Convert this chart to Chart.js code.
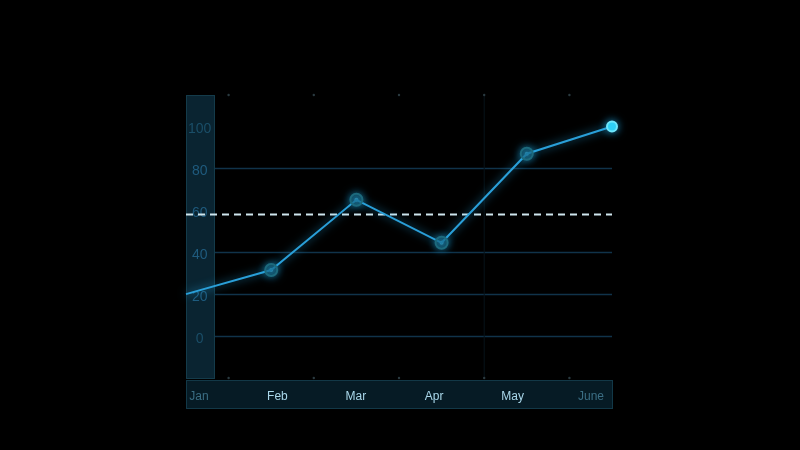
<!DOCTYPE html>
<html>
<head>
<meta charset="utf-8">
<script src="https://cdn.jsdelivr.net/npm/chart.js@4.4.0/dist/chart.umd.min.js"></script>
<style>
  html, body { margin: 0; padding: 0; background: #000; }
  canvas { display: block; }
</style>
</head>
<body>
<canvas id="myChart" width="800" height="450"></canvas>
<script>
// chart data
var months = ['Jan', 'Feb', 'Mar', 'Apr', 'May', 'June'];
var values = [20, 31.5, 65, 44.5, 87, 100];
var yTicks = [0, 20, 40, 60, 80, 100];
var targetValue = 58; // dashed reference line

var last = values.length - 1;

// panels, grid, dots and the dashed line
var hudPlugin = {
    id: 'hud',
    beforeDraw: function (chart) {
        var ctx = chart.ctx;
        var a = chart.chartArea;
        var x = chart.scales.x;
        var y = chart.scales.y;
        ctx.save();
        ctx.fillStyle = '#000';
        ctx.fillRect(0, 0, chart.width, chart.height);

        // y axis panel
        ctx.fillStyle = '#0a2431';
        ctx.fillRect(a.left, a.top, 29, a.bottom - a.top);
        ctx.strokeStyle = '#143b4a';
        ctx.lineWidth = 1;
        ctx.strokeRect(a.left + 0.5, a.top + 0.5, 28, a.bottom - a.top);

        // x axis panel
        ctx.fillStyle = '#061b25';
        ctx.fillRect(a.left, a.bottom + 2, a.right - a.left, 29);
        ctx.strokeStyle = '#123847';
        ctx.strokeRect(a.left + 0.5, a.bottom + 2.5, a.right - a.left, 28);

        // horizontal grid lines (60 sits under the dashed line)
        ctx.strokeStyle = '#10334a';
        ctx.lineWidth = 1.5;
        yTicks.forEach(function (v) {
            if (v >= 100 || v === 60) return;
            var py = Math.round(y.getPixelForValue(v)) + 0.5;
            ctx.beginPath();
            ctx.moveTo(a.left + 29, py);
            ctx.lineTo(a.right, py);
            ctx.stroke();
        });

        // faint vertical line between Apr and May
        var vx = (x.getPixelForValue(3) + x.getPixelForValue(4)) / 2;
        ctx.strokeStyle = '#07131a';
        ctx.lineWidth = 1;
        ctx.beginPath();
        ctx.moveTo(vx, a.top);
        ctx.lineTo(vx, a.bottom);
        ctx.stroke();

        // small dots between months, top and bottom
        ctx.fillStyle = '#2a3a40';
        for (var i = 0; i < last; i++) {
            var mx = (x.getPixelForValue(i) + x.getPixelForValue(i + 1)) / 2;
            ctx.beginPath(); ctx.arc(mx, a.top, 1.2, 0, Math.PI * 2); ctx.fill();
            ctx.beginPath(); ctx.arc(mx, a.bottom, 1.2, 0, Math.PI * 2); ctx.fill();
        }
        ctx.restore();
    },
    beforeDatasetsDraw: function (chart) {
        var ctx = chart.ctx;
        var a = chart.chartArea;
        var py = chart.scales.y.getPixelForValue(targetValue);
        ctx.save();
        ctx.strokeStyle = '#cfe6ee';
        ctx.lineWidth = 1.8;
        ctx.setLineDash([7, 5]);
        ctx.beginPath();
        ctx.moveTo(a.left, py);
        ctx.lineTo(a.right, py);
        ctx.stroke();
        ctx.restore();
    },
    beforeDatasetDraw: function (chart) {
        chart.ctx.save();
        chart.ctx.shadowColor = 'rgba(40, 190, 255, 0.7)';
        chart.ctx.shadowBlur = 8;
    },
    afterDatasetDraw: function (chart) {
        chart.ctx.restore();
    }
};

var ctx = document.getElementById('myChart').getContext('2d');
var myChart = new Chart(ctx, {
    type: 'line',
    data: {
        labels: months,
        datasets: [{
            data: values,
            borderColor: '#2a9fd8',
            borderWidth: 2,
            tension: 0,
            clip: false,
            pointRadius: function (c) { return c.dataIndex === 0 ? 0 : (c.dataIndex === last ? 5 : 6); },
            pointBackgroundColor: function (c) { return c.dataIndex === last ? '#30d4f4' : 'rgba(18, 70, 88, 0.6)'; },
            pointBorderColor: function (c) { return c.dataIndex === last ? '#6fe6fb' : '#1d6a7d'; },
            pointBorderWidth: 2
        }, {
            // bright centre of each marker
            data: values,
            showLine: false,
            clip: false,
            pointRadius: function (c) { return (c.dataIndex === 0 || c.dataIndex === last) ? 0 : 2; },
            pointBackgroundColor: '#5cd2f2',
            pointBorderWidth: 0
        }]
    },
    options: {
        responsive: false,
        animation: false,
        layout: { padding: { left: 186, right: 188, top: 95, bottom: 41 } },
        plugins: { legend: { display: false }, tooltip: { enabled: false } },
        scales: {
            x: { display: false },
            xl: {
                type: 'linear',
                position: 'bottom',
                min: -0.166,
                max: 5.268,
                afterBuildTicks: function (s) { s.ticks = months.map(function (m, i) { return { value: i }; }); },
                afterFit: function (s) { s.height = 31; },
                grid: { display: false, drawTicks: false },
                border: { display: false },
                ticks: {
                    autoSkip: false,
                    maxRotation: 0,
                    padding: 11,
                    font: { family: 'Liberation Sans', size: 12 },
                    color: function (c) { return (c.index === 0 || c.index === last) ? '#3b6e84' : '#a9d7ea'; },
                    callback: function (v) { return months[v]; }
                }
            },
            y: {
                min: -20,
                max: 115,
                position: 'left',
                afterBuildTicks: function (s) { s.ticks = yTicks.map(function (v) { return { value: v }; }); },
                afterFit: function (s) { s.width = 0; },
                grid: { display: false, drawTicks: false },
                border: { display: false },
                ticks: {
                    mirror: true,
                    crossAlign: 'center',
                    padding: 2,
                    labelOffset: 3,
                    font: { family: 'Liberation Sans', size: 14 },
                    color: function (c) { return (c.tick.value === 0 || c.tick.value === 100) ? '#1a4e68' : '#1f5b7e'; }
                }
            }
        }
    },
    plugins: [hudPlugin]
});
</script>
</body>
</html>
